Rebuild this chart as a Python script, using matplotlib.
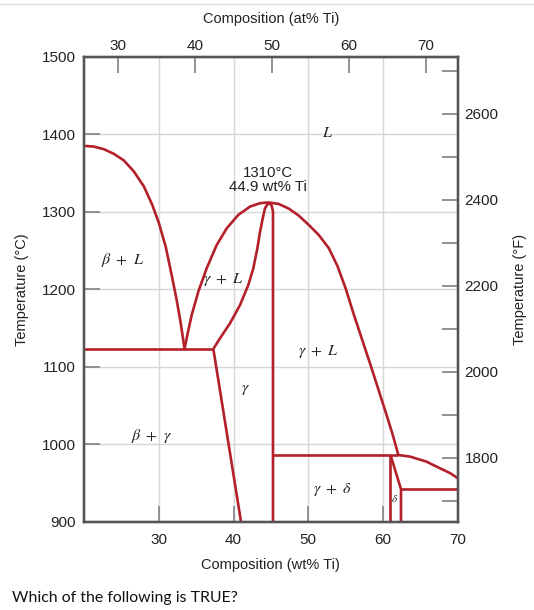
import matplotlib
matplotlib.use('Agg')
from matplotlib import pyplot as plt
from matplotlib.lines import Line2D

# phase boundaries (wt% Ti, deg C)
left_liq_wt = [20.0, 21.34, 22.68, 24.01, 25.35, 26.69, 28.03, 29.14, 30.03, 30.93, 31.68, 32.40, 32.94, 33.45]
left_liq_T = [1385, 1384, 1380.6, 1374.6, 1366, 1351.7, 1332.3, 1308.6, 1285, 1254.8, 1220.4, 1186, 1155.9, 1123]

gam_liq_wt = [33.45, 33.82, 34.41, 35.29, 36.41, 37.75, 39.09, 40.64, 42.21, 43.55, 44.71]
gam_liq_T = [1123, 1140.9, 1166.8, 1196.8, 1227, 1257, 1278.6, 1295.9, 1306.6, 1311, 1312]

gam_sol_wt = [37.3, 38.19, 39.53, 40.87, 41.98, 42.65, 43.19, 43.55, 43.91, 44.21, 44.71]
gam_sol_T = [1123, 1136.6, 1156, 1179.6, 1205.5, 1227, 1252.8, 1274.2, 1291.5, 1304.5, 1312]

gam_right_wt = [44.71, 45.1, 45.28, 45.28]
gam_right_T = [1312, 1308, 1300, 900]

right_liq_wt = [44.71, 46.05, 47.39, 48.72, 50.06, 51.40, 52.74, 53.90, 55.00, 56.10, 57.20,
                58.30, 59.40, 60.40, 61.30, 62.05, 63.6, 65.8, 67.6, 69.0, 70.0]
right_liq_T = [1312, 1310, 1304, 1295, 1283, 1270, 1253, 1230, 1201, 1167, 1135,
               1103, 1070, 1040, 1012, 986, 984, 977.5, 969, 962.5, 956]

gam_solvus_wt = [37.3, 41.0]
gam_solvus_T = [1123, 900]

eutectic_wt = [20.0, 37.3]
eutectic_T = [1123, 1123]

peritectic_wt = [45.28, 62.05]
peritectic_T = [986, 986]

delta_left_wt = [60.9, 60.9]
delta_left_T = [986, 900]
delta_right_wt = [61.0, 62.4, 62.4]
delta_right_T = [986, 942, 900]

low_line_wt = [62.4, 70.0]
low_line_T = [942, 942]

# axes ticks
wt_ticks = [30, 40, 50, 60, 70]
at_tick_pos = [24.5, 34.8, 45.1, 55.4, 65.7]   # wt% position of the at% ticks
at_tick_labels = ['30', '40', '50', '60', '70']
c_ticks = [900, 1000, 1100, 1200, 1300, 1400, 1500]
f_ticks = [1700, 1800, 1900, 2000, 2100, 2200, 2300, 2400, 2500, 2600, 2700]
f_labels = ['', '1800', '', '2000', '', '2200', '', '2400', '', '2600', '']

# phase labels
phase_text = ['$L$', '$\\beta\\ +\\ L$', '$\\gamma\\ +\\ L$', '$\\gamma\\ +\\ L$', '$\\gamma$',
              '$\\beta\\ +\\ \\gamma$', '$\\gamma\\ +\\ \\delta$']
phase_x = [52.6, 25.1, 38.7, 51.4, 41.6, 29.0, 53.2]
phase_y = [1402, 1238, 1213, 1119, 1071, 1011, 942]

plt.rcParams['mathtext.fontset'] = 'stix'
plt.rcParams['font.family'] = ['Liberation Sans', 'DejaVu Sans']

red = '#b3202a'
gray_tick = '#8a8a8a'
txt = '#222222'
lw = 1.9

fig = plt.figure(figsize=(5.34, 6.10), dpi=100)
ax = fig.add_axes([0.1573, 0.1448, 0.7, 0.7622])

for xs, ys in [(left_liq_wt, left_liq_T), (gam_liq_wt, gam_liq_T), (gam_sol_wt, gam_sol_T),
               (gam_right_wt, gam_right_T), (right_liq_wt, right_liq_T),
               (gam_solvus_wt, gam_solvus_T), (eutectic_wt, eutectic_T),
               (peritectic_wt, peritectic_T), (delta_left_wt, delta_left_T),
               (delta_right_wt, delta_right_T), (low_line_wt, low_line_T)]:
    ax.plot(xs, ys, color=red, lw=lw, solid_capstyle='butt', solid_joinstyle='round', zorder=3)

ax.set_xlim(20, 70)
ax.set_ylim(900, 1500)
ax.set_xticks(wt_ticks)
ax.set_yticks(c_ticks)
ax.grid(True, color='#d6d6d6', lw=1.0, zorder=0)
ax.tick_params(axis='both', direction='in', length=11.5, width=1.3, color=gray_tick,
               labelsize=11, labelcolor=txt)
ax.tick_params(axis='x', pad=8)
ax.tick_params(axis='y', pad=6)
for s in ax.spines.values():
    s.set_color('#555555')
    s.set_linewidth(1.6)
ax.set_xlabel('Composition (wt% Ti)', fontsize=10.5, color=txt, labelpad=8)
ax.set_ylabel('Temperature (°C)', fontsize=10.5, color=txt, labelpad=9)

top = ax.twiny()
top.set_xlim(20, 70)
top.set_xticks(at_tick_pos)
top.set_xticklabels(at_tick_labels)
top.tick_params(direction='in', length=11.5, width=1.3, color=gray_tick, labelsize=11,
                labelcolor=txt, pad=3)
top.set_xlabel('Composition (at% Ti)', fontsize=10.5, color=txt, labelpad=11)

right = ax.twinx()
right.set_ylim(900 * 9 / 5 + 32, 1500 * 9 / 5 + 32)
right.set_yticks(f_ticks)
right.set_yticklabels(f_labels)
right.tick_params(direction='in', length=11.5, width=1.3, color=gray_tick, labelsize=11,
                  labelcolor=txt, pad=5)
right.set_ylabel('Temperature (°F)', fontsize=10.5, color=txt, labelpad=10)
for a in (top, right):
    for s in a.spines.values():
        s.set_color('#555555')
        s.set_linewidth(1.6)

for t, x, y in zip(phase_text, phase_x, phase_y):
    ax.text(x, y, t, fontsize=11.5, ha='center', va='center', color=txt, zorder=4)
ax.text(61.6, 930, '$\\delta$', fontsize=8, ha='center', va='center', color=txt, zorder=4)
ax.text(44.6, 1341, '1310°C\n44.9 wt% Ti', fontsize=10.8, ha='center', va='center',
        color=txt, linespacing=1.0, zorder=4)

fig.add_artist(Line2D([0, 1], [1 - 3.5 / 610, 1 - 3.5 / 610], color='#dddddd', lw=1))
fig.text(12 / 534, 1 - 598 / 610, 'Which of the following is TRUE?', fontsize=11.4,
         family=['Lato', 'DejaVu Sans'], va='center', ha='left', color='#111111')

fig.savefig('out.png', dpi=100)
